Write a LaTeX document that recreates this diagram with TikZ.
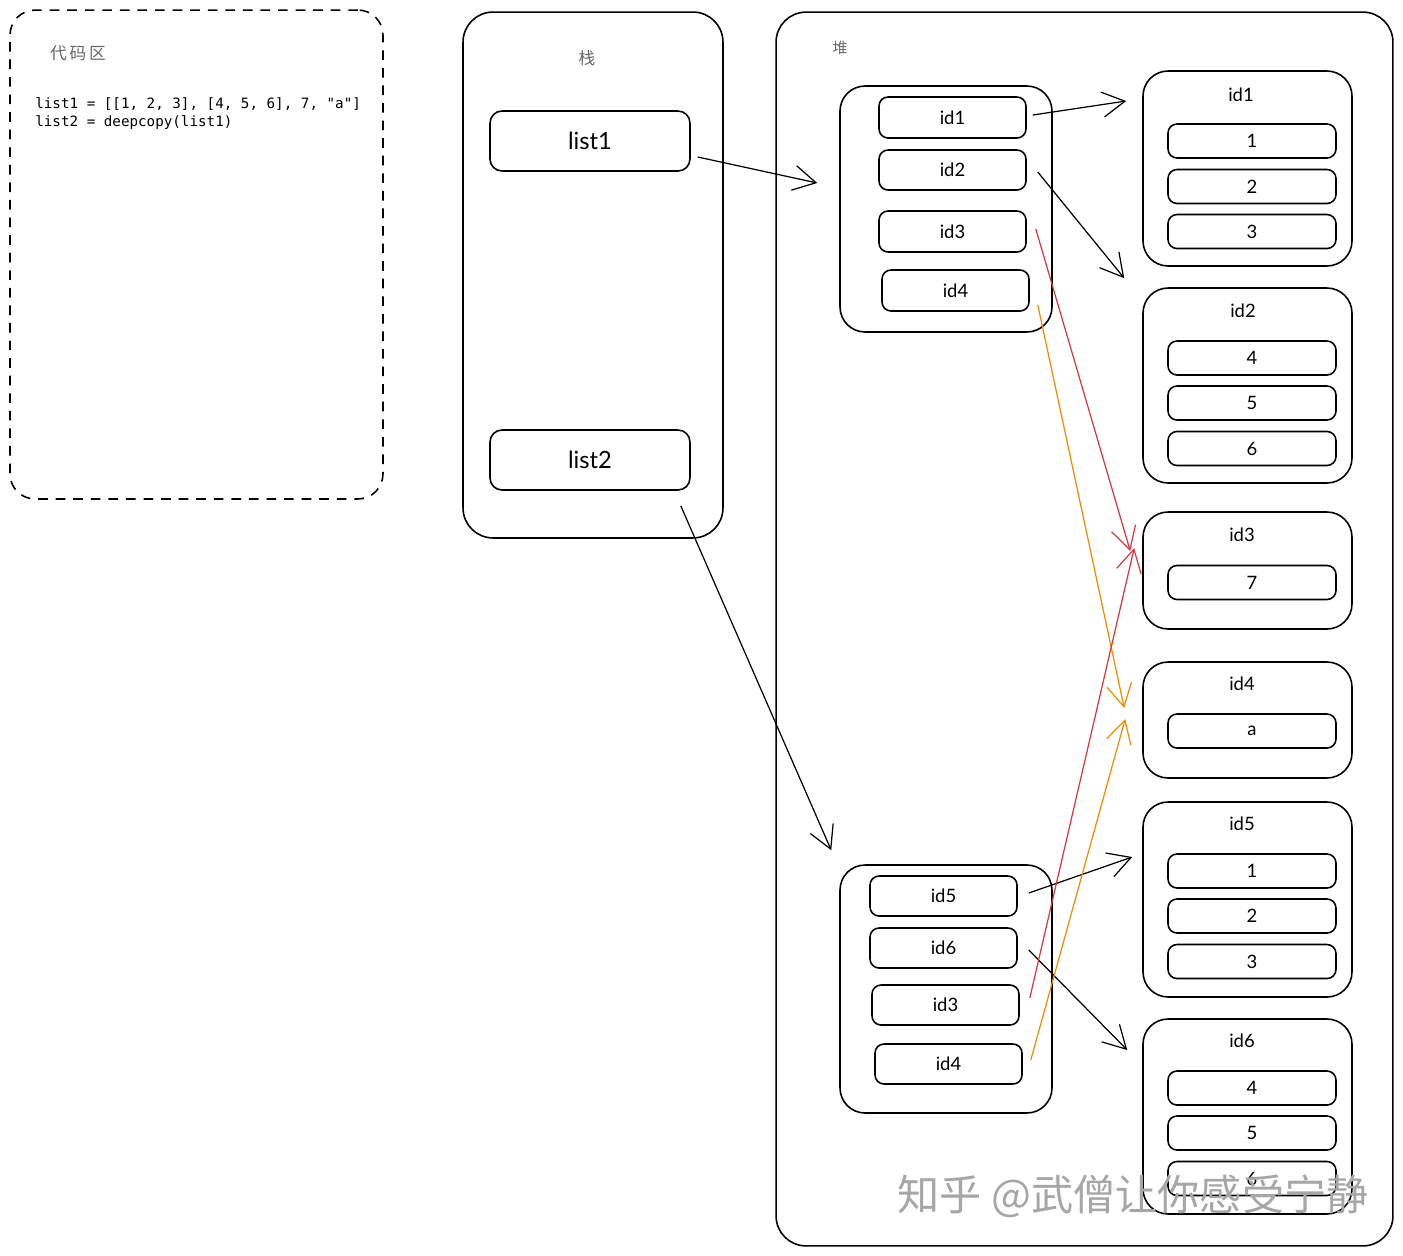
\documentclass[tikz,border=0pt]{standalone}
\usepackage{fontspec}
\setmainfont{Lato}
\setmonofont{DejaVu Sans Mono}
\newfontfamily\cjkfont{Noto Sans CJK SC}
\usetikzlibrary{arrows.meta,positioning}

\definecolor{refred}{HTML}{D9383F}
\definecolor{reforange}{HTML}{F08C00}

\tikzset{
  frame/.style={draw, line width=0.9pt, rounded corners=0.6cm, inner sep=0pt},
  cell/.style={draw, line width=0.9pt, rounded corners=0.18cm, inner sep=0pt, font=\fontsize{10.5}{12}\selectfont},
  objbox/.style={frame, rounded corners=0.5cm, minimum width=4.18cm},
  item/.style={cell, minimum width=3.36cm, minimum height=0.68cm},
  ptr/.style={-{Straight Barb[length=4.5mm,width=5mm]}, line width=0.7pt},
  cjklabel/.style={font=\cjkfont\fontsize{9.5}{11}\selectfont, text=black!60},
}

\begin{document}
\begin{tikzpicture}[x=0.02cm, y=-0.02cm]
  \useasboundingbox (0,0) rectangle (1403,1255);

  % code area
  \node[frame, dash pattern=on 5.5pt off 4.5pt, rounded corners=0.5cm, minimum width=7.46cm, minimum height=9.78cm] (code) at (196.5,254.5) {};
  \node[cjklabel] (codetitle) at (78,53) {代\,码\,区};
  \node[anchor=north west, inner sep=0pt, align=left, font=\ttfamily\fontsize{8.1}{10.2}\selectfont] (codetext) at (35,97)
    {list1 = [[1, 2, 3], [4, 5, 6], 7, "a"]\\list2 = deepcopy(list1)};

  % stack
  \node[frame, minimum width=5.2cm, minimum height=10.52cm] (stack) at (593,275) {};
  \node[cjklabel] (stacktitle) at (587,58) {栈};
  \node[cell, rounded corners=0.24cm, minimum width=4cm, minimum height=1.2cm, font=\fontsize{13.5}{15}\selectfont] (list1) at (590,141) {list1};
  \node[cell, rounded corners=0.24cm, minimum width=4cm, minimum height=1.2cm, font=\fontsize{13.5}{15}\selectfont] (list2) at (590,460) {list2};

  % heap
  \node[frame, minimum width=12.34cm, minimum height=24.68cm] (heap) at (1084.5,629) {};
  \node[cjklabel, font=\cjkfont\fontsize{8.5}{10}\selectfont] (heaptitle) at (840,48) {堆};

  % list objects
  \node[frame, rounded corners=0.5cm, minimum width=4.24cm, minimum height=4.92cm] (ulist) at (946,209) {};
  \node[cell, minimum width=2.94cm, minimum height=0.82cm] (uid1) at (952.5,117.5) {id1};
  \node[cell, minimum width=2.94cm, minimum height=0.8cm] (uid2) at (952.5,170) {id2};
  \node[cell, minimum width=2.94cm, minimum height=0.82cm] (uid3) at (952.5,231.5) {id3};
  \node[cell, minimum width=2.94cm, minimum height=0.82cm] (uid4) at (955.5,290.5) {id4};

  \node[frame, rounded corners=0.5cm, minimum width=4.24cm, minimum height=4.96cm] (llist) at (946,989) {};
  \node[cell, minimum width=2.94cm, minimum height=0.8cm] (lid5) at (943.5,896) {id5};
  \node[cell, minimum width=2.94cm, minimum height=0.8cm] (lid6) at (943.5,948) {id6};
  \node[cell, minimum width=2.94cm, minimum height=0.8cm] (lid3) at (945.5,1005) {id3};
  \node[cell, minimum width=2.94cm, minimum height=0.8cm] (lid4) at (948.5,1064) {id4};

  % element objects
  \node[objbox, minimum height=3.9cm] (obj1) at (1247.5,168.5) {};
  \node[cell, draw=none] (obj1title) at (1241,95) {id1};
  \node[item] (obj1a) at (1252,141) {1};
  \node[item] (obj1b) at (1252,186.5) {2};
  \node[item] (obj1c) at (1252,231.5) {3};

  \node[objbox, minimum height=3.9cm] (obj2) at (1247.5,385.5) {};
  \node[cell, draw=none] (obj2title) at (1243,311) {id2};
  \node[item] (obj2a) at (1252,358) {4};
  \node[item] (obj2b) at (1252,403) {5};
  \node[item] (obj2c) at (1252,448.5) {6};

  \node[objbox, minimum height=2.34cm] (obj3) at (1247.5,570.5) {};
  \node[cell, draw=none] (obj3title) at (1242,535) {id3};
  \node[item] (obj3a) at (1252,582.5) {7};

  \node[objbox, minimum height=2.32cm] (obj4) at (1247.5,720) {};
  \node[cell, draw=none] (obj4title) at (1242,684) {id4};
  \node[item] (obj4a) at (1252,731) {a};

  \node[objbox, minimum height=3.9cm] (obj5) at (1247.5,899.5) {};
  \node[cell, draw=none] (obj5title) at (1242,824) {id5};
  \node[item] (obj5a) at (1252,871) {1};
  \node[item] (obj5b) at (1252,916) {2};
  \node[item] (obj5c) at (1252,961.5) {3};

  \node[objbox, minimum height=3.9cm] (obj6) at (1247.5,1116.5) {};
  \node[cell, draw=none] (obj6title) at (1242,1041) {id6};
  \node[item] (obj6a) at (1252,1088) {4};
  \node[item] (obj6b) at (1252,1133) {5};
  \node[item] (obj6c) at (1252,1178.5) {6};

  % references
  \draw[ptr] ([shift={(7,16)}]list1.east) -- ([shift={(-22,-26)}]ulist.west);
  \draw[ptr] ([shift={(-10,15)}]list2.south east) -- ([shift={(-8,-14)}]llist.north west);
  \draw[ptr] ([shift={(6,-2.5)}]uid1.east) -- ([shift={(-16,-67.5)}]obj1.west);
  \draw[ptr] ([shift={(11,2)}]uid2.east) -- ([shift={(-18,-9)}]obj2.north west);
  \draw[ptr, refred] ([shift={(9,-2.5)}]uid3.east) -- ([shift={(-12,-19.5)}]obj3.west);
  \draw[ptr, reforange] ([shift={(8,14.5)}]uid4.east) -- ([shift={(-18,-12)}]obj4.west);
  \draw[ptr] ([shift={(11,-3)}]lid5.east) -- ([shift={(-10,-42.5)}]obj5.west);
  \draw[ptr] ([shift={(11,2)}]lid6.east) -- ([shift={(-15,-66.5)}]obj6.west);
  \draw[ptr, refred] ([shift={(10,-7)}]lid3.east) -- ([shift={(-8,-22.5)}]obj3.west);
  \draw[ptr, reforange] ([shift={(8,-4)}]lid4.east) -- ([shift={(-17,-1)}]obj4.west);

  % watermark
  \node[font=\cjkfont\fontsize{24}{28}\selectfont, text=black!35] (mark) at (1133,1196) {知乎 @武僧让你感受宁静};
\end{tikzpicture}
\end{document}
